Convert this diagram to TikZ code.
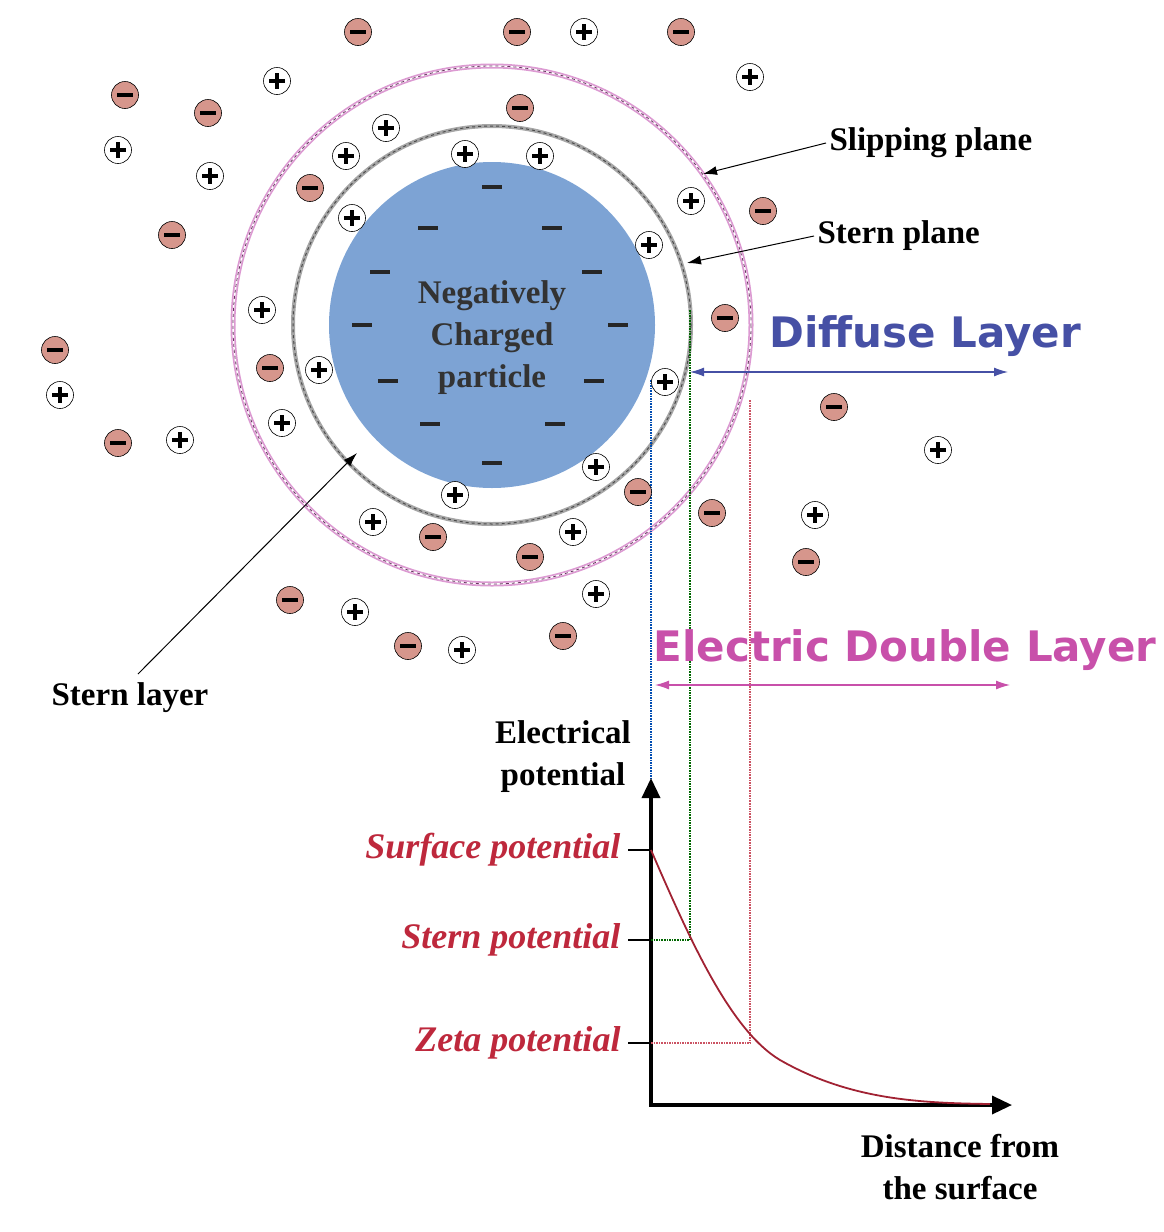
\documentclass[tikz,border=0pt]{standalone}
\usepackage{fontspec}
\setmainfont{Liberation Serif}
\newfontfamily\sansf{DejaVu Sans}
\usetikzlibrary{arrows.meta}
\definecolor{pblue}{RGB}{125,163,212}
\definecolor{ionm}{RGB}{214,150,140}
\definecolor{ring}{RGB}{205,110,190}
\definecolor{dblue}{RGB}{70,80,165}
\definecolor{dpink}{RGB}{200,80,170}
\definecolor{pred}{RGB}{190,40,60}
\begin{document}
\begin{tikzpicture}[x=1pt,y=-1pt,
 ionM/.style={circle,draw=black,line width=0.6pt,fill=ionm,minimum size=27pt,inner sep=0pt,
   path picture={\fill[black] ([xshift=-8pt,yshift=-1.8pt]path picture bounding box.center) rectangle ([xshift=8pt,yshift=1.8pt]path picture bounding box.center);}},
 ionP/.style={circle,draw=black,line width=0.6pt,fill=white,minimum size=27pt,inner sep=0pt,
   path picture={\fill[black] ([xshift=-8pt,yshift=-1.8pt]path picture bounding box.center) rectangle ([xshift=8pt,yshift=1.8pt]path picture bounding box.center);
   \fill[black] ([xshift=-1.8pt,yshift=-8pt]path picture bounding box.center) rectangle ([xshift=1.8pt,yshift=8pt]path picture bounding box.center);}},
 neg/.style={fill=black!85,minimum width=20pt,minimum height=3.5pt,inner sep=0pt},
 lbl/.style={font=\bfseries\fontsize{33}{36}\selectfont},
 plbl/.style={font=\bfseries\itshape\fontsize{36}{38}\selectfont,text=pred,anchor=east},
 dotv/.style={densely dotted,line width=1.6pt},
 arr/.style={-{Latex[length=14pt,width=9pt]},line width=1pt}]
\useasboundingbox (0,0) rectangle (1164,1232);
% particle
\node[circle,fill=pblue,minimum size=326pt,inner sep=0pt] (p) at (492,325) {};
\draw[black!35,line width=4pt] (492,325) circle (199);
\draw[black!70,dashed,line width=1pt] (492,325) circle (199);
\draw[ring!70,line width=5pt] (492,325) circle (259);
\draw[white,line width=1.5pt] (492,325) circle (259);
\draw[black!50!ring,dashed,line width=0.8pt] (492,325) circle (259);
\node[align=center,text=black!80,font=\bfseries\fontsize{33}{42}\selectfont] (pt) at (492,338) {Negatively\\Charged\\particle};
\foreach \x/\y [count=\i] in {492/187,428/228,552/228,380/272,592/272,362/325,618/325,388/381,594/381,430/424,555/424,492/463}
  \node[neg] (n\i) at (\x,\y) {};
% dotted verticals
\draw[dotv,teal!60!blue] (651,380) -- (651,780);
\draw[dotv,green!40!black] (690,310) -- (690,940);
\draw[dotv,pred!80] (750,400) -- (750,1043);
% ions
\foreach \x/\y [count=\i] in {358/32,517/32,681/32,125/95,208/113,520/108,310/188,763/211,172/235,725/318,270/368,55/350,118/443,834/407,638/492,712/513,433/537,530/557,806/562,290/600,408/646,563/636}
  \node[ionM] (m\i) at (\x,\y) {};
\foreach \x/\y [count=\i] in {584/32,750/77,277/81,118/150,386/128,346/156,465/154,540/156,210/176,691/201,352/218,649/245,262/310,319/370,60/395,665/382,282/423,180/440,938/450,596/467,455/495,373/522,573/532,815/515,596/594,355/612,462/650}
  \node[ionP] (q\i) at (\x,\y) {};
% labels with arrows
\node[lbl,anchor=west] (sp) at (826,143) {Slipping plane};
\coordinate (spt) at (703,174);
\draw[arr] (sp.west) -- (spt);
\node[lbl,anchor=west] (st) at (814,236) {Stern plane};
\coordinate (stt) at (687,263);
\draw[arr] (st.west) -- (stt);
\node[lbl] (sl) at (130,698) {Stern layer};
\coordinate (slt) at (357,453);
\draw[arr] (138,674) -- (slt);
% layers
\node[font=\sansf\bfseries\fontsize{42}{44}\selectfont,text=dblue] (dl) at (925,336) {Diffuse Layer};
\coordinate (d1) at (690,372); \coordinate (d2) at (1008,372);
\draw[dblue,{Latex[length=14pt,width=9pt]}-{Latex[length=14pt,width=9pt]},line width=1.2pt] (d1) -- (d2);
\node[font=\sansf\bfseries\fontsize{42}{44}\selectfont,text=dpink] (el) at (905,650) {Electric Double Layer};
\coordinate (e1) at (655,685); \coordinate (e2) at (1010,685);
\draw[dpink,{Latex[length=14pt,width=9pt]}-{Latex[length=14pt,width=9pt]},line width=1.2pt] (e1) -- (e2);
% graph
\coordinate (o) at (651,1105);
\coordinate (yt) at (651,778);
\coordinate (xt) at (1012,1105);
\draw[line width=3.5pt,-{Triangle[length=20pt,width=18pt]}] (651,1106.75) -- (yt);
\draw[line width=3.5pt,-{Triangle[length=20pt,width=18pt]}] (649.25,1105) -- (xt);
\node[align=center,font=\bfseries\fontsize{33}{42}\selectfont] (ep) at (563,757) {Electrical\\potential};
\node[align=center,font=\bfseries\fontsize{33}{42}\selectfont] (ds) at (960,1167) {Distance from\\the surface};
\node[plbl] (sfp) at (624,850) {Surface potential};
\node[plbl] (stp) at (624,940) {Stern potential};
\node[plbl] (zp) at (624,1043) {Zeta potential};
\draw[line width=2.5pt] (628,850) -- (651,850);
\draw[line width=2.5pt] (628,940) -- (651,940);
\draw[line width=2.5pt] (628,1043) -- (651,1043);
\draw[dotv,green!40!black] (651,940) -- (690,940);
\draw[dotv,pred!80] (651,1043) -- (750,1043);
\draw[pred!85!black,line width=1.8pt] (651,850) .. controls (690,940) and (730,1030) .. (780,1060) .. controls (850,1100) and (920,1103) .. (990,1104);
\end{tikzpicture}
\end{document}
